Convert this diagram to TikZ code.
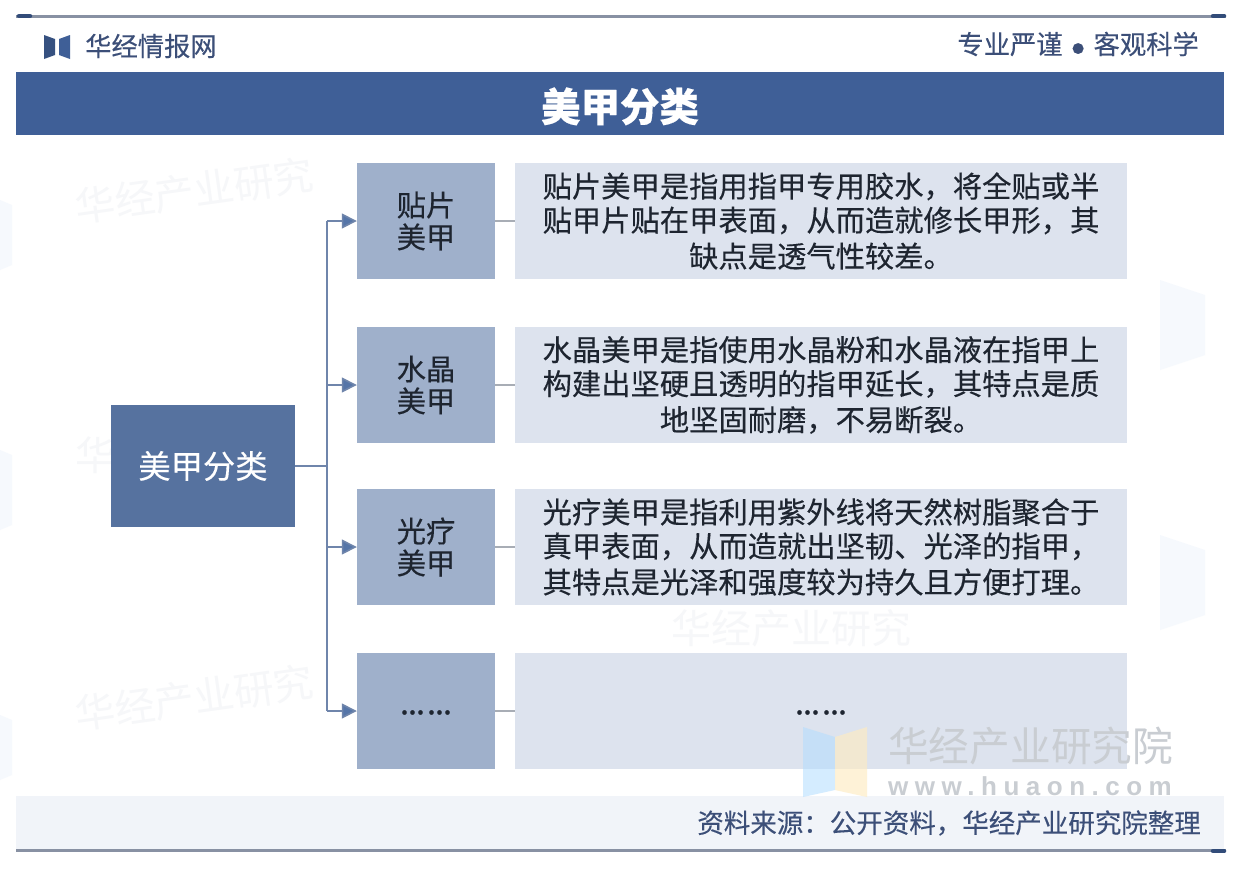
\documentclass[tikz,border=0pt]{standalone}
\usepackage{fontspec}
\setmainfont{Noto Sans CJK SC}[FakeBold=0.3]
\newfontfamily\urlfont{Liberation Sans Bold}[LetterSpace=25]
\newfontfamily\plainfont{Noto Sans CJK SC}
\usetikzlibrary{arrows.meta}
\definecolor{navy}{HTML}{3F5F97}
\definecolor{rootc}{HTML}{56729F}
\definecolor{midc}{HTML}{9FB0CB}
\definecolor{lightc}{HTML}{DDE3EE}
\definecolor{linec}{HTML}{6F85AB}
\definecolor{arrowc}{HTML}{5575A8}
\definecolor{graylc}{HTML}{A8ADB5}
\definecolor{txt}{HTML}{1E2530}
\definecolor{hdr}{HTML}{3C4F78}
\definecolor{panelc}{HTML}{F1F4F9}
\definecolor{wm}{HTML}{C9CDD2}
\definecolor{faint}{HTML}{F6F7F9}
\definecolor{tintb}{HTML}{F6F9FD}
\newcommand{\dotgrp}{\makebox[8pt]{.}\makebox[8pt]{.}\makebox[8pt]{.}}
\newcommand{\elldots}{\raisebox{-3.5pt}[0pt][0pt]{\bfseries\fontsize{21}{21}\selectfont\dotgrp\hspace{3pt}\dotgrp}}
\tikzset{
  x=1pt,y=-1pt,
  box/.style={draw=none,inner sep=0pt,minimum height=116pt,align=center,text=txt,font=\fontsize{29.3}{36}\selectfont},
  rootbox/.style={box,fill=rootc,text=white,minimum width=184pt,minimum height=122pt,font=\fontsize{32.3}{38}\selectfont},
  midbox/.style={box,fill=midc,minimum width=138pt},
  detailbox/.style={box,fill=lightc,minimum width=612pt},
  arrowline/.style={draw=linec,line width=1.6pt,-{Triangle[length=15pt,width=15pt,fill=arrowc]}},
  trunk/.style={draw=linec,line width=1.6pt},
  stub/.style={draw=graylc,line width=1.6pt},
  rule/.style={draw=graylc!70!hdr,line width=3pt},
  ruleend/.style={draw=navy!80!black,line width=4.5pt,line cap=round},
  faintmark/.style={text=faint,anchor=west,font=\plainfont\fontsize{40}{40}\selectfont},
  headtext/.style={text=hdr,inner sep=0pt,font=\fontsize{26.3}{30}\selectfont},
}
\begin{document}
\begin{tikzpicture}
\useasboundingbox (0,0) rectangle (1246,868);
\fill[white] (0,0) rectangle (1246,868);
% faint background marks
\fill[tintb] (0,200) -- (12,205) -- (12,265) -- (0,270) -- cycle;
\fill[tintb] (0,450) -- (12,455) -- (12,525) -- (0,530) -- cycle;
\fill[tintb] (0,715) -- (12,720) -- (12,775) -- (0,780) -- cycle;
\fill[tintb] (1160,280) -- (1205,295) -- (1205,355) -- (1160,370) -- cycle;
\fill[tintb] (1160,535) -- (1205,550) -- (1205,615) -- (1160,630) -- cycle;
\node[faintmark,rotate=8] (wa) at (72,208) {华经产业研究};
\node[faintmark] (wb) at (72,455) {华};
\node[faintmark,rotate=8] (wc) at (72,715) {华经产业研究};
\node[faintmark] (wd) at (668,628) {华经产业研究};
% top rule
\draw[rule] (16,16) -- (1226,16);
\draw[ruleend] (19,16) -- (30,16);
\draw[ruleend] (1213,16) -- (1224,16);
% header logo
\fill[navy!85!black] (44,35) -- (55,39) -- (55,55) -- (44,59) -- cycle;
\fill[navy] (70,35) -- (59,39) -- (59,55) -- (70,59) -- cycle;
\node[headtext,anchor=west] (brand) at (85,46) {华经情报网};
\node[headtext,anchor=east] (motto) at (1199,44) {专业严谨\makebox[31pt]{\raisebox{1pt}{\fontsize{12}{12}\selectfont ●}}客观科学};
% title bar
\node[fill=navy,minimum width=1208pt,minimum height=63pt,inner sep=0pt,text=white,font=\bfseries\fontsize{39.5}{40}\selectfont] (title) at (620,103.5) {\raisebox{-18pt}[0pt][0pt]{美甲分类}};
% footer panel
\fill[panelc] (16,796) rectangle (1224,850);
% root and boxes
\node[rootbox] (root) at (203,466) {\raisebox{-1pt}{美甲分类}};
\node[midbox] (m1) at (426,221) {\raisebox{-2pt}{贴片}\\[-2pt]美甲};
\node[midbox] (m2) at (426,385) {\raisebox{-2pt}{水晶}\\[-2pt]美甲};
\node[midbox] (m3) at (426,547) {\raisebox{-2pt}{光疗}\\[-2pt]美甲};
\node[midbox] (m4) at (426,711) {\elldots};
\node[detailbox] (d1) at (821,221) {\raisebox{-2pt}{贴片美甲是指用指甲专用胶水，将全贴或半}\\贴甲片贴在甲表面，从而造就修长甲形，其\\缺点是透气性较差。};
\node[detailbox] (d2) at (821,385) {\raisebox{-2pt}{水晶美甲是指使用水晶粉和水晶液在指甲上}\\构建出坚硬且透明的指甲延长，其特点是质\\地坚固耐磨，不易断裂。};
\node[detailbox] (d3) at (821,547) {\raisebox{-2pt}{光疗美甲是指利用紫外线将天然树脂聚合于}\\真甲表面，从而造就出坚韧、光泽的指甲，\\其特点是光泽和强度较为持久且方便打理。};
\node[detailbox] (d4) at (821,711) {\elldots};
% watermark logo, over the last box
\fill[blue!45!cyan!30!white,opacity=.55] (803,727) -- (835,737) -- (835,790) -- (803,797) -- cycle;
\fill[yellow!40!orange!22!white,opacity=.65] (867,727) -- (835,737) -- (835,790) -- (867,797) -- cycle;
% connectors
\coordinate (j) at (327,466);
\draw[trunk] (root.east) -- (j);
\draw[trunk] (j |- m1.west) -- (j |- m4.west);
\foreach \n in {m1,m2,m3,m4}{
  \draw[arrowline] (j |- \n.west) -- (\n.west);
}
\draw[stub] (m1.east) -- (d1.west);
\draw[stub] (m2.east) -- (d2.west);
\draw[stub] (m3.east) -- (d3.west);
\draw[stub] (m4.east) -- (d4.west);
% watermark text
\node[text=wm,anchor=west,inner sep=0pt,font=\plainfont\fontsize{40.7}{42}\selectfont] (wmt) at (888,746) {华经产业研究院};
\node[text=wm,anchor=west,inner sep=0pt,font=\urlfont\fontsize{26}{28}\selectfont] (wmu) at (888,786) {www.huaon.com};
% footer
\node[headtext,anchor=east,font=\fontsize{26.5}{30}\selectfont] (src) at (1201,823) {资料来源：公开资料，华经产业研究院整理};
% bottom rule
\draw[rule] (16,850) -- (1226,850);
\draw[ruleend] (1213,851) -- (1224,851);
\end{tikzpicture}
\end{document}
